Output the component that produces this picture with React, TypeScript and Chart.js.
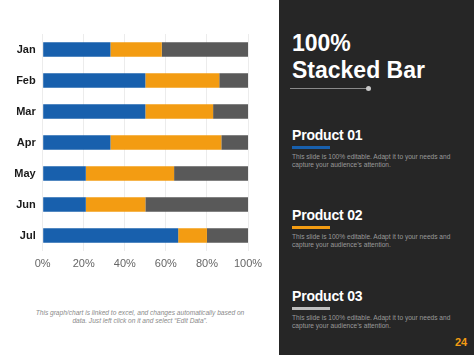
import React, { useEffect, useRef } from "react";
import { Chart, registerables } from "chart.js";

Chart.register(...registerables);

const categories = ["Jan", "Feb", "Mar", "Apr", "May", "Jun", "Jul"];
const product01 = [33, 50, 50, 33, 21, 21, 66];
const product02 = [25, 36, 33, 54, 43, 29, 14];
const product03 = [42, 14, 17, 13, 36, 50, 20];
const xTicks = [0, 20, 40, 60, 80, 100];

const BLUE = "#1860ad";
const ORANGE = "#f39c12";
const GRAY = "#595959";
const PANEL = "#262626";

const desc = "This slide is 100% editable. Adapt it to your needs and capture your audience\u2019s attention.";

function BarChart() {
  const ref = useRef<HTMLCanvasElement | null>(null);
  useEffect(() => {
    if (!ref.current) return;
    const chart = new Chart(ref.current, {
      type: "bar",
      data: {
        labels: categories,
        datasets: [
          { label: "Product 01", data: product01, backgroundColor: BLUE },
          { label: "Product 02", data: product02, backgroundColor: ORANGE },
          { label: "Product 03", data: product03, backgroundColor: GRAY },
        ],
      },
      options: {
        indexAxis: "y",
        responsive: false,
        animation: false,
        layout: { padding: { top: 34, right: 30, left: 0, bottom: 0 } },
        datasets: { bar: { barPercentage: 0.95, categoryPercentage: 0.5 } },
        plugins: { legend: { display: false }, tooltip: { enabled: false } },
        scales: {
          x: {
            stacked: true,
            min: 0,
            max: 100,
            afterBuildTicks: (s: any) => {
              s.ticks = xTicks.map((v) => ({ value: v }));
            },
            afterFit: (s: any) => {
              s.height = 24;
            },
            grid: { color: "#ececec", drawTicks: false },
            border: { display: false },
            ticks: {
              padding: 6,
              color: "#666666",
              font: { family: "Liberation Sans, Arial", size: 11 },
              callback: (v: any) => v + "%",
            },
          },
          y: {
            stacked: true,
            afterFit: (s: any) => {
              s.width = 42.7;
            },
            grid: { display: false, drawTicks: false },
            border: { display: false },
            ticks: {
              padding: 7,
              color: "#1a1a1a",
              font: { family: "Liberation Sans, Arial", size: 11, weight: "bold" },
            },
          },
        },
      },
    });
    return () => chart.destroy();
  }, []);
  return (
    <canvas
      ref={ref}
      width={278}
      height={275}
      style={{ position: "absolute", left: 0, top: 0, width: 278, height: 275 }}
    />
  );
}

function Product({ title, top, color }: { title: string; top: number; color: string }) {
  return (
    <div style={{ position: "absolute", left: 292, top, width: 170 }}>
      <div style={{ color: "#ffffff", fontWeight: "bold", fontSize: 14, lineHeight: "16px", letterSpacing: -0.2 }}>{title}</div>
      <div style={{ width: 38, height: 3, background: color, marginTop: 3 }} />
      <div style={{ color: "#9a9a9a", fontSize: 6.6, lineHeight: "8px", marginTop: 4 }}>{desc}</div>
    </div>
  );
}

export default function App() {
  return (
    <div
      style={{
        position: "fixed",
        left: 0,
        top: 0,
        width: 474,
        height: 355,
        background: "#ffffff",
        overflow: "hidden",
        fontFamily: "Liberation Sans, Arial, sans-serif",
      }}
    >
      <BarChart />
      <div
        style={{
          position: "absolute",
          left: 30,
          top: 309,
          width: 220,
          textAlign: "center",
          color: "#8a8a8a",
          fontStyle: "italic",
          fontSize: 6.6,
          lineHeight: "8px",
        }}
      >
        This graph/chart is linked to excel, and changes automatically based on data. Just left click on it and select “Edit Data”.
      </div>
      <div style={{ position: "absolute", left: 279, top: 0, width: 195, height: 355, background: PANEL }} />
      <div
        style={{
          position: "absolute",
          left: 292,
          top: 30,
          color: "#ffffff",
          fontWeight: "bold",
          fontSize: 23,
          lineHeight: "27px",
        }}
      >
        100%
        <br />
        Stacked Bar
      </div>
      <div style={{ position: "absolute", left: 290, top: 88, width: 78, height: 1, background: "#8a8a8a" }} />
      <div style={{ position: "absolute", left: 366, top: 86, width: 5, height: 5, borderRadius: 3, background: "#c8c8c8" }} />
      <Product title="Product 01" top={127} color={BLUE} />
      <Product title="Product 02" top={207} color={ORANGE} />
      <Product title="Product 03" top={288} color="#bfbfbf" />
      <div style={{ position: "absolute", left: 455, top: 336, color: ORANGE, fontWeight: "bold", fontSize: 11 }}>24</div>
    </div>
  );
}
